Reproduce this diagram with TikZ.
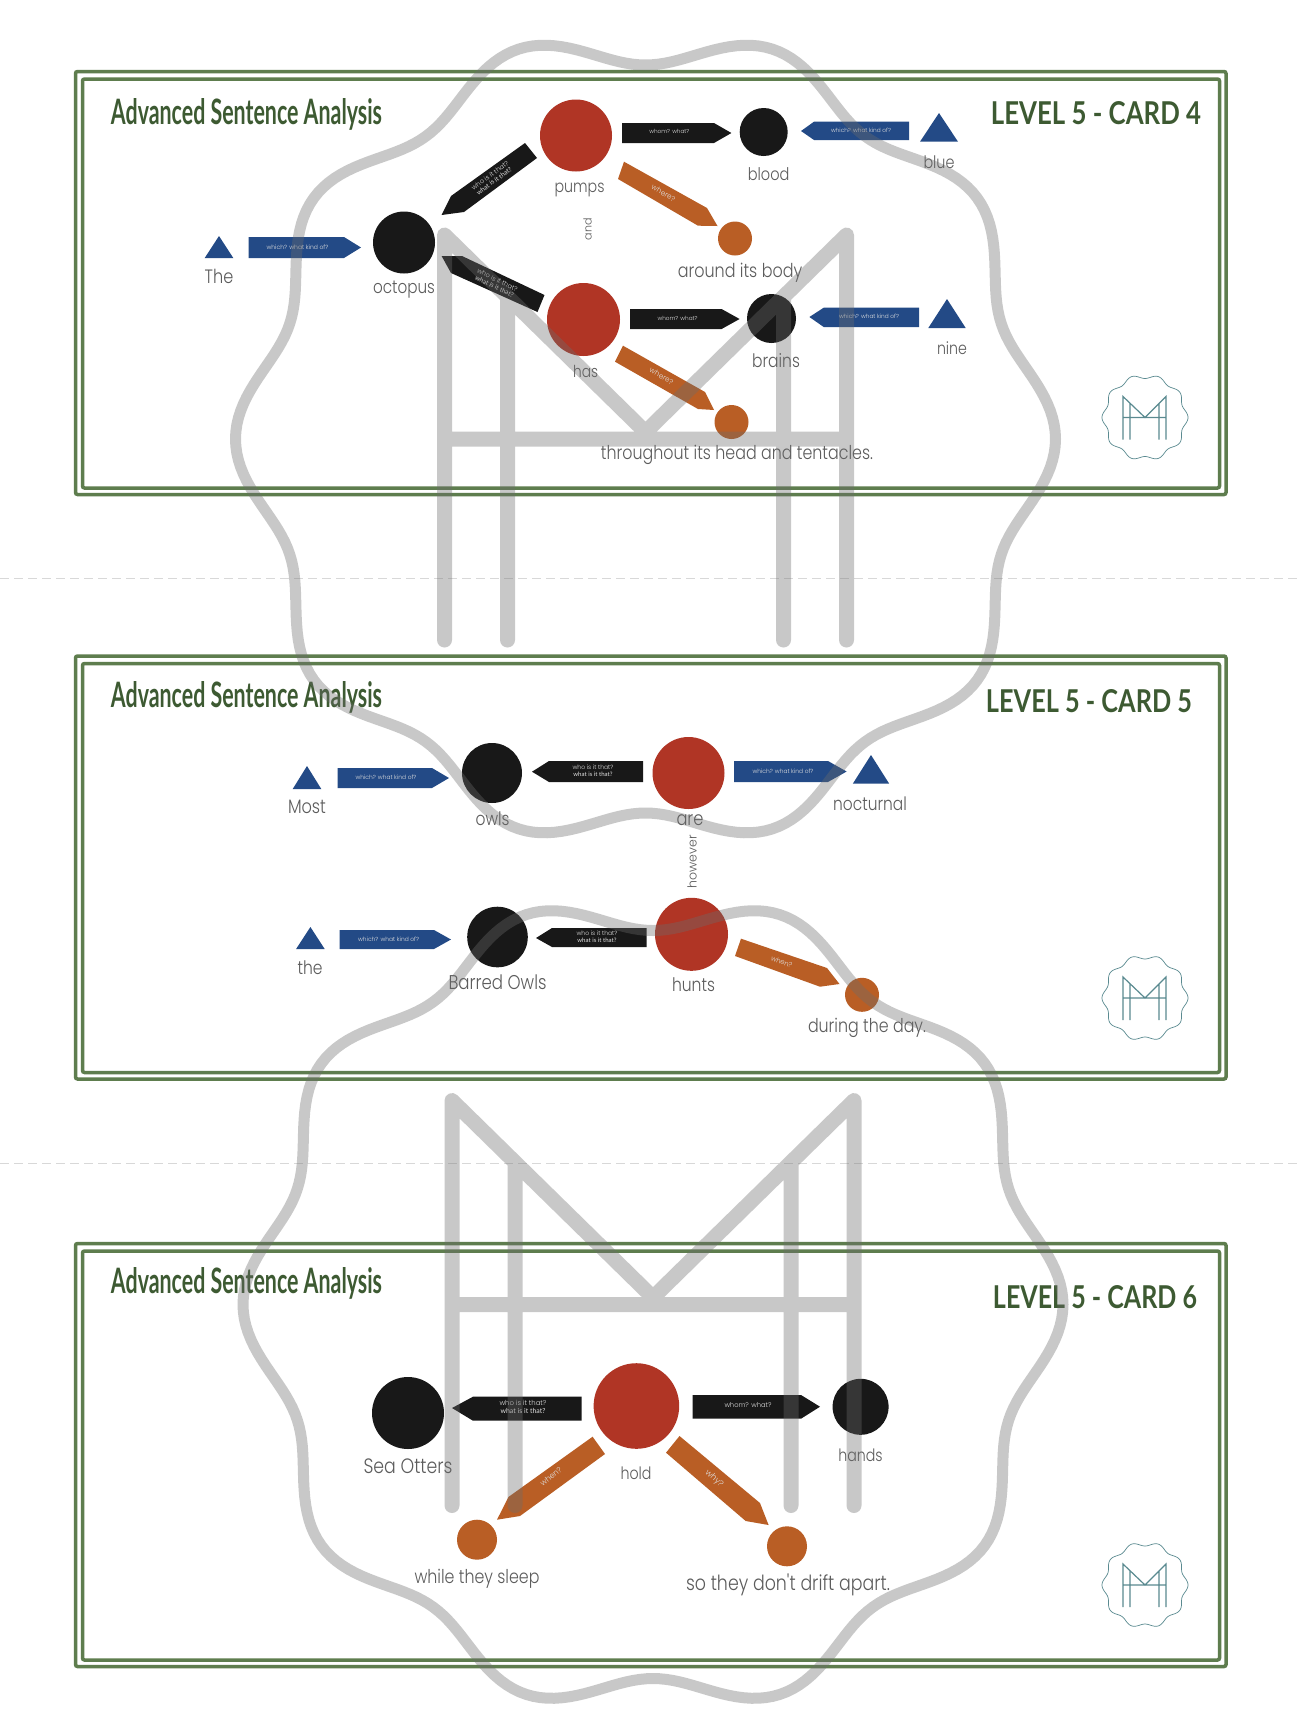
\documentclass[tikz,border=0pt]{standalone}
\usepackage{fontspec}
\usepackage{graphicx}
\setmainfont{Lato}
\newfontfamily\bodyfont{Poppins}[UprightFont=* Light]
\newfontfamily\headfont{Lato}[UprightFont=* Bold]
\definecolor{cred}{HTML}{B03525}
\definecolor{cblack}{HTML}{181818}
\definecolor{cblue}{HTML}{234A86}
\definecolor{corange}{HTML}{B95E25}
\definecolor{cframe}{HTML}{5E7D4E}
\definecolor{chead}{HTML}{3D5A32}
\definecolor{ctext}{HTML}{5C5C5C}
\definecolor{ctag}{HTML}{E0E0E0}
\definecolor{cteal}{HTML}{5A8A90}
\definecolor{cwm}{HTML}{6C6C6C}
\definecolor{cdash}{HTML}{D8D8D8}
\renewcommand\arraystretch{0.85}
\tikzset{
  dotnode/.style={circle,fill=#1,inner sep=0pt,outer sep=0pt},
  frameline/.style={draw=cframe,line width=3.5pt,rounded corners=2pt},
  wmline/.style={draw=cwm,draw opacity=0.37,line cap=round,line join=round},
  tagtext/.style={text=ctag,inner sep=0pt},
  wordtext/.style={text=ctext,inner sep=0pt},
  headtext/.style={text=chead,inner sep=0pt},
}
% [rotation]{name}{x}{y}{width}{text}
\newcommand\wordlbl[6][0]{\node[wordtext,rotate=#1] (#2) at (#3,#4) {\scalebox{1}[1.2]{\resizebox{#5pt}{!}{\bodyfont #6}}};}
\newcommand\vertlbl[6][0]{\node[wordtext,rotate=#1] (#2) at (#3,#4) {\resizebox{#5pt}{!}{\bodyfont #6}};}
\newcommand\taglbl[6][0]{\node[tagtext,rotate=#1] (#2) at (#3,#4) {\resizebox{#5pt}{!}{\begin{tabular}{@{}c@{}}\bodyfont #6\end{tabular}}};}
% {name}{x}{y}{w}{h}{text}
\newcommand\headlbl[6]{\node[headtext] (#1) at (#2,#3) {\resizebox{#4pt}{#5pt}{\headfont #6}};}
% {name}{colour}{x}{y}{r}
\newcommand\dotn[5]{\node[dotnode=#2,minimum size=#5*2pt] (#1) at (#3,#4) {};}
% {apex x}{apex y}{base y}{half width}
\newcommand\tri[4]{\fill[cblue] (#1,#2) -- ({#1+#4},#3) -- ({#1-#4},#3) -- cycle;}
\newcommand\logo[2]{%
  \begin{scope}[shift={(#1,#2)}]
  \draw[cteal,line width=0.7pt] plot[domain=0:360,samples=241] ({(41+2*cos(10*\x))*cos(\x)},{(41+2*cos(10*\x))*sin(\x)}) -- cycle;
  \draw[cteal,line width=1.2pt] (-22,22) -- (-22,-21) -- (0,0) -- (21,-21) -- (21,22)
    (-15,22) -- (-15,-14) (14,22) -- (14,-14) (-22,0) -- (21,0);
  \end{scope}}
\newcommand\mainwm[2]{%
  \begin{scope}[shift={(#1,#2)}]
  \draw[wmline,line width=11pt] plot[domain=0:360,samples=361] ({(392+18*cos(10*\x))*cos(\x)},{(392+18*cos(10*\x))*sin(\x)}) -- cycle;
  \draw[wmline,line width=15pt]
    (-201,201) -- (-201,-204) -- (0,-7) -- (201,-204) -- (201,201)
    (-138,201) -- (-138,-142) (138,201) -- (138,-142) (-201,0) -- (201,0);
  \end{scope}}
\begin{document}
\begin{tikzpicture}[x=1pt,y=-1pt]
\useasboundingbox (0,0) rectangle (1300,1733);
\fill[white] (0,0) rectangle (1300,1733);
\draw[cdash,line width=0.8pt,dash pattern=on 9pt off 5pt] (0,578.5) -- (1300,578.5);
\draw[cdash,line width=0.8pt,dash pattern=on 9pt off 5pt] (0,1163) -- (1300,1163);
% frames
\draw[frameline] (75.5,71.5) rectangle (1226,494.5);
\draw[frameline] (82.5,79) rectangle (1219.5,488);
\draw[frameline] (75.5,656) rectangle (1226,1079);
\draw[frameline] (82.5,663.5) rectangle (1219.5,1072.5);
\draw[frameline] (75.5,1243.5) rectangle (1226,1666.5);
\draw[frameline] (82.5,1251) rectangle (1219.5,1660);
% titles
\headlbl{t1}{246.5}{114}{271}{26}{Advanced Sentence Analysis}
\headlbl{t2}{246.5}{697}{271}{26}{Advanced Sentence Analysis}
\headlbl{t3}{246.5}{1283}{271}{26}{Advanced Sentence Analysis}
\headlbl{l1}{1096}{113.5}{210}{23}{LEVEL 5 - CARD 4}
\headlbl{l2}{1089}{701}{206}{23}{LEVEL 5 - CARD 5}
\headlbl{l3}{1095}{1297}{204}{23}{LEVEL 5 - CARD 6}
\logo{1145}{417.5}\logo{1145}{998}\logo{1145}{1585}
%%% CARD 4
\tri{219}{236}{258}{14.3}
\wordlbl{the1}{219}{276}{28.6}{The}
\fill[cblue] (248.5,237) -- (344,237) -- (361,247.5) -- (344,258) -- (248.5,258) -- cycle;
\taglbl{q1}{297.5}{247.7}{62}{which? what kind of?}
\dotn{octopus}{cblack}{404}{242.5}{31}
\wordlbl{octopusw}{404}{290}{62}{octopus}
\dotn{pumps}{cred}{576}{135.5}{36}
\wordlbl{pumpsw}{579.6}{190}{50}{pumps}
\fill[cblack] (525,143) -- (537,158) -- (464,212) -- (441.6,215) -- (451,196) -- cycle;
\taglbl[36]{q2}{492.6}{179}{44}{who is it that?\\what is it that?}
\vertlbl[90]{andw}{587.5}{229}{22}{and}
\dotn{has}{cred}{583.5}{319.5}{36.5}
\wordlbl{hasw}{585.7}{371.7}{25}{has}
\fill[cblack] (544.5,295) -- (537.5,312) -- (451,273) -- (441.6,256) -- (462,256) -- cycle;
\taglbl[-26]{q3}{495.5}{284}{44}{who is it that?\\what is it that?}
\fill[corange] (624,161.7) -- (707,208) -- (717.5,226) -- (698,225.7) -- (618,179) -- cycle;
\taglbl[-30]{q4}{663}{194}{26}{where?}
\dotn{around}{corange}{735}{238.5}{17}
\wordlbl{aroundw}{740}{273}{124.5}{around its body}
\fill[cblack] (622,123) -- (714,123) -- (731.4,133) -- (714,143) -- (622,143) -- cycle;
\taglbl{q5}{669.4}{132.7}{40}{whom? what?}
\dotn{blood}{cblack}{763.7}{132}{24}
\wordlbl{bloodw}{768.6}{174}{41.6}{blood}
\fill[cblue] (801,131) -- (814,121.7) -- (909,121.7) -- (909,140) -- (814,140) -- cycle;
\taglbl{q6}{861}{130.7}{60}{which? what kind of?}
\tri{939}{113}{141.7}{19}
\wordlbl{bluew}{939}{162}{31}{blue}
\fill[cblack] (630,309) -- (721.6,309) -- (739.6,319) -- (721.6,329) -- (630,329) -- cycle;
\taglbl{q7}{677.6}{319}{40}{whom? what?}
\dotn{brains}{cblack}{771.5}{318.5}{24.5}
\wordlbl{brainsw}{776}{361}{47.8}{brains}
\fill[cblue] (809.4,317) -- (823.7,307.7) -- (919,307.7) -- (919,327) -- (823.7,327) -- cycle;
\taglbl{q8}{869}{317}{60}{which? what kind of?}
\tri{947}{299}{328}{18.7}
\wordlbl{ninew}{952}{348}{30}{nine}
\fill[corange] (623,345.7) -- (705,392) -- (714,410) -- (698,409) -- (615,361.7) -- cycle;
\taglbl[-30]{q9}{661}{377}{26}{where?}
\dotn{head}{corange}{731.5}{422}{17}
\wordlbl{headw}{737}{455}{272}{throughout its head and tentacles.}
%%% CARD 5
\tri{307}{766}{789}{14.3}
\wordlbl{mostw}{307}{806.7}{38}{Most}
\fill[cblue] (337.7,768) -- (432,768) -- (449,778) -- (432,788) -- (337.7,788) -- cycle;
\taglbl{r1}{386}{778}{61}{which? what kind of?}
\dotn{owls}{cblack}{492}{773}{30}
\wordlbl{owlsw}{492.6}{819}{34}{owls}
\fill[cblack] (532,771.7) -- (549,761) -- (643,761) -- (643,782) -- (549,782) -- cycle;
\taglbl{r2}{593}{771.7}{41}{who is it that?\\what is it that?}
\dotn{are}{cred}{688.5}{773}{36}
\wordlbl{arew}{690}{820}{27}{are}
\fill[cblue] (734,761) -- (828,761) -- (846.6,771.5) -- (828,782) -- (734,782) -- cycle;
\taglbl{r3}{783}{771.7}{61}{which? what kind of?}
\tri{871}{755}{783.7}{18.2}
\wordlbl{nocw}{870}{804}{73.6}{nocturnal}
\vertlbl[90]{howw}{692}{861.7}{53}{however}
\tri{310.4}{927}{949}{14.3}
\wordlbl{the2}{310}{968}{25}{the}
\fill[cblue] (339.5,930) -- (434,930) -- (451,939.5) -- (434,949) -- (339.5,949) -- cycle;
\taglbl{r4}{388.6}{939.7}{61}{which? what kind of?}
\dotn{barred}{cblack}{497.5}{937}{30.3}
\wordlbl{barredw}{497.5}{982.7}{98}{Barred Owls}
\fill[cblack] (536,938) -- (552,928) -- (646.6,928) -- (646.6,947) -- (552,947) -- cycle;
\taglbl{r5}{597}{937.7}{41}{who is it that?\\what is it that?}
\dotn{hunts}{cred}{691.5}{934.3}{36.5}
\wordlbl{huntsw}{693.5}{985}{43}{hunts}
\fill[corange] (741,938.7) -- (827,968) -- (839.5,984) -- (820,986.7) -- (735,956) -- cycle;
\taglbl[-20]{r6}{781.4}{962.7}{22}{when?}
\dotn{day}{corange}{862}{994.8}{17}
\wordlbl{dayw}{867}{1028}{118}{during the day.}
%%% CARD 6
\dotn{otters}{cblack}{408}{1413}{36}
\wordlbl{ottersw}{408}{1466.7}{89}{Sea Otters}
\fill[cblack] (452,1408) -- (473,1396.7) -- (581.5,1396.7) -- (581.5,1420.7) -- (473,1420.7) -- cycle;
\taglbl{s1}{523}{1408}{47}{who is it that?\\what is it that?}
\dotn{hold}{cred}{636.4}{1406}{42.8}
\wordlbl{holdw}{636}{1473}{31}{hold}
\fill[cblack] (692.5,1395) -- (801,1395) -- (820,1406.7) -- (801,1418.7) -- (692.5,1418.7) -- cycle;
\taglbl{s2}{748}{1406}{47}{whom? what?}
\dotn{hands}{cblack}{860.6}{1406.8}{28}
\wordlbl{handsw}{860.5}{1455}{44.4}{hands}
\fill[corange] (592.6,1436.7) -- (605,1454) -- (520,1516) -- (497,1519.7) -- (508.4,1497) -- cycle;
\taglbl[38]{s3}{551.6}{1477.7}{25}{when?}
\fill[corange] (679.5,1436) -- (760,1503) -- (768.6,1525) -- (745.7,1521) -- (666,1452.7) -- cycle;
\taglbl[-42]{s4}{714}{1479}{21}{why?}
\dotn{sleep}{corange}{477}{1539.7}{20}
\wordlbl{sleepw}{477}{1579}{125}{while they sleep}
\dotn{drift}{corange}{787}{1546.3}{20}
\wordlbl{driftw}{788}{1585}{204}{so they don't drift apart.}
% watermarks
\mainwm{645.5}{439}
\mainwm{653}{1304.5}
\end{tikzpicture}
\end{document}
